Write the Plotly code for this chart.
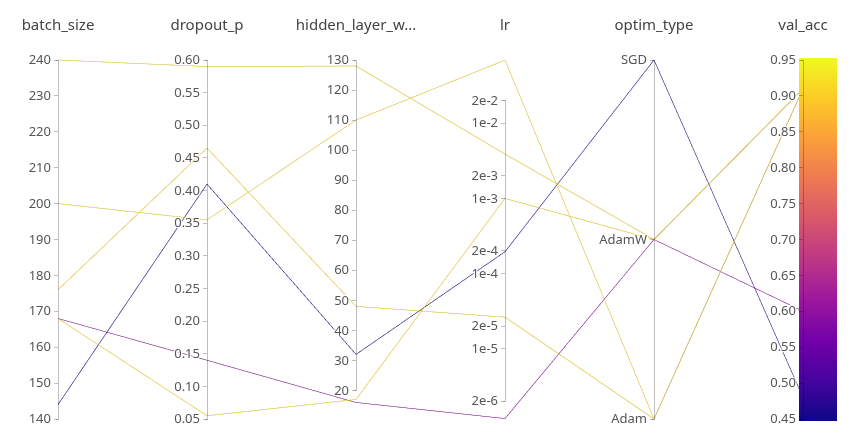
import plotly.graph_objects as go

batch_size = [240, 200, 176, 168, 144, 168]
dropout_p = [0.59, 0.355, 0.465, 0.055, 0.41, 0.14]
hidden_layer_width = [128, 110, 48, 17, 32, 16]
lr_log10 = [-2.41, -1.16, -4.58, -3.0, -3.71, -5.93]
optim_type = [1, 0, 0, 1, 2, 1]
val_acc = [0.91, 0.91, 0.91, 0.91, 0.48, 0.60]

lr_tickvals = [-5.699, -5, -4.699, -4, -3.699, -3, -2.699, -2, -1.699]
lr_ticktext = ["2e-6", "1e-5", "2e-5", "1e-4", "2e-4", "1e-3", "2e-3", "1e-2", "2e-2"]
optim_names = ["Adam", "AdamW", "SGD"]

fig = go.Figure(go.Parcoords(
    line=dict(color=val_acc, colorscale="Plasma", cmin=0.45, cmax=0.95,
              showscale=True,
              colorbar=dict(x=0.995, xanchor="left", y=0.5, yanchor="middle", len=1.0,
                            lenmode="fraction", thickness=38, xpad=0, ypad=0,
                            showticklabels=False, outlinewidth=0)),
    dimensions=[
        dict(label="batch_size", values=batch_size, range=[140, 240],
             tickvals=list(range(140, 241, 10))),
        dict(label="dropout_p", values=dropout_p, range=[0.05, 0.6],
             tickvals=[0.05, 0.1, 0.15, 0.2, 0.25, 0.3, 0.35, 0.4, 0.45, 0.5, 0.55, 0.6],
             ticktext=["0.05", "0.10", "0.15", "0.20", "0.25", "0.30", "0.35", "0.40", "0.45", "0.50", "0.55", "0.60"]),
        dict(label="hidden_layer_w...", values=hidden_layer_width, range=[10.5, 130],
             tickvals=list(range(20, 131, 10))),
        dict(label="lr", values=lr_log10, range=[-5.936, -1.158],
             tickvals=lr_tickvals, ticktext=lr_ticktext),
        dict(label="optim_type", values=optim_type, range=[0, 2],
             tickvals=[0, 1, 2], ticktext=optim_names),
        dict(label="val_acc", values=val_acc, range=[0.45, 0.95],
             tickvals=[0.45, 0.5, 0.55, 0.6, 0.65, 0.7, 0.75, 0.8, 0.85, 0.9, 0.95],
             ticktext=["0.45", "0.50", "0.55", "0.60", "0.65", "0.70", "0.75", "0.80", "0.85", "0.90", "0.95"]),
    ],
    labelfont=dict(size=15, color="#444"),
    tickfont=dict(size=13, color="#555"),
    labelside="top",
))
fig.update_layout(width=855, height=435, margin=dict(l=50, r=60, t=50, b=22),
                  font=dict(family="Noto Sans"), paper_bgcolor="white")
fig.write_html("out.html")
